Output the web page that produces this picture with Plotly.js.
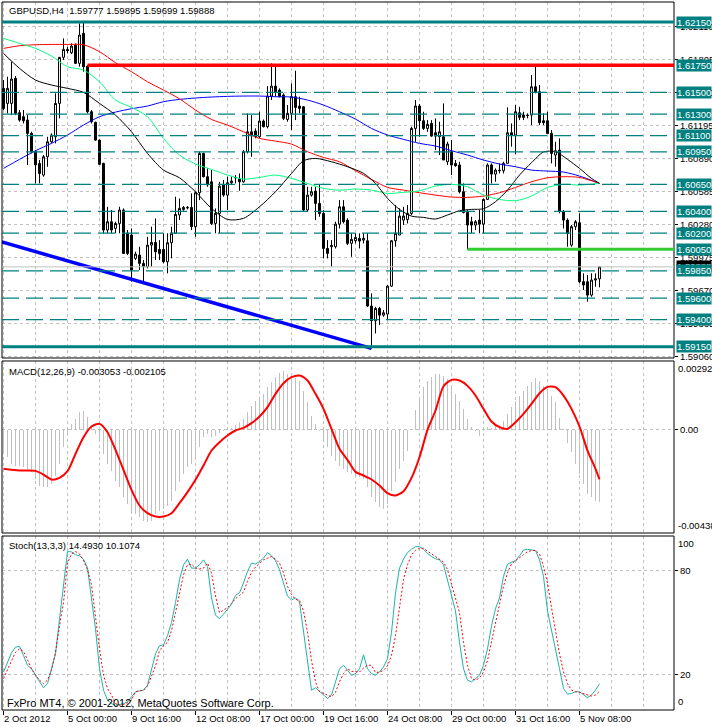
<!DOCTYPE html>
<html><head><meta charset="utf-8">
<script src="https://cdn.plot.ly/plotly-3.0.1.min.js"></script>
<style>html,body{margin:0;padding:0;background:#fff}#chart{width:712px;height:727px}</style>
</head><body><div id="chart"></div>
<script>
// ---------- DATA ----------
const symbolTitle = 'GBPUSD,H4  1.59777 1.59895 1.59699 1.59888';
const macdTitle = 'MACD(12,26,9) -0.003053 -0.002105';
const stochTitle = 'Stoch(13,3,3) 14.4930 10.1074';
const copyright = 'FxPro MT4, \u00A9 2001-2012, MetaQuotes Software Corp.';

const tickBars = [0,16,32,48,64,80,96,112,128,144];
const tickLabels = ['2 Oct 2012','5 Oct 00:00','9 Oct 16:00','12 Oct 08:00','17 Oct 00:00','19 Oct 16:00','24 Oct 08:00','29 Oct 00:00','31 Oct 16:00','5 Nov 08:00'];

const openP = [1.61537,1.61398,1.61398,1.61629,1.61312,1.61275,1.61244,1.61121,1.60952,1.60844,
1.60736,1.60905,1.61044,1.61090,1.61398,1.61823,1.61897,1.61866,1.61937,1.61768,
1.62045,1.61743,1.61321,1.61223,1.61059,1.60844,1.60228,1.60305,1.60243,1.60289,
1.60413,1.60198,1.60182,1.59966,1.59997,1.59920,1.59889,1.60089,1.60114,1.60049,
1.60049,1.59935,1.60111,1.60198,1.60367,1.60419,1.60437,1.60437,1.60259,1.60573,
1.60936,1.60721,1.60674,1.60289,1.60382,1.60644,1.60551,1.60665,1.60714,1.60699,
1.60674,1.60952,1.61136,1.61143,1.61090,1.61235,1.61183,1.61466,1.61558,1.61521,
1.61475,1.61250,1.61306,1.61460,1.61374,1.61367,1.60413,1.60551,1.60588,1.60474,
1.60382,1.60058,1.60074,1.60074,1.60283,1.60443,1.60320,1.60105,1.60129,1.60151,
1.60135,1.60129,1.59526,1.59390,1.59504,1.59442,1.59452,1.59710,1.60129,1.60182,
1.60320,1.60326,1.60382,1.61167,1.61374,1.61238,1.61167,1.61213,1.61127,1.61090,
1.61090,1.60859,1.60952,1.60844,1.60829,1.60582,1.60391,1.60305,1.60274,1.60320,
1.60283,1.60511,1.60829,1.60745,1.60776,1.60776,1.60844,1.61127,1.61106,1.61312,
1.61290,1.61290,1.61290,1.61552,1.61506,1.61238,1.61238,1.61121,1.60921,1.60967,
1.60397,1.60320,1.60089,1.60259,1.60296,1.59751,1.59751,1.59627,1.59766,1.59777];
const highP = [1.61614,1.61645,1.61783,1.61651,1.61337,1.61337,1.61290,1.61136,1.60967,1.60875,
1.60921,1.61090,1.61121,1.61491,1.61829,1.61999,1.61922,1.61953,1.61953,1.62137,
1.62159,1.61752,1.61337,1.61229,1.61066,1.60850,1.60443,1.60413,1.60305,1.60443,
1.60428,1.60228,1.60243,1.60028,1.60074,1.59951,1.60166,1.60259,1.60336,1.60135,
1.60198,1.60198,1.60259,1.60536,1.60520,1.60449,1.60449,1.60567,1.60582,1.60952,
1.60942,1.60798,1.60782,1.60428,1.60674,1.60690,1.60721,1.60721,1.60736,1.60751,
1.60967,1.61306,1.61290,1.61167,1.61321,1.61250,1.61558,1.61768,1.61737,1.61537,
1.61491,1.61383,1.61583,1.61700,1.61460,1.61374,1.60628,1.60628,1.60628,1.60644,
1.60413,1.60135,1.60135,1.60305,1.60505,1.60505,1.60336,1.60198,1.60198,1.60198,
1.60198,1.60198,1.59643,1.59519,1.59519,1.59489,1.59719,1.60135,1.60459,1.60428,
1.60443,1.60459,1.61183,1.61429,1.61392,1.61321,1.61244,1.61244,1.61260,1.61229,
1.61398,1.61044,1.61059,1.60875,1.60859,1.60659,1.60413,1.60351,1.60320,1.60413,
1.60520,1.60844,1.60844,1.60798,1.60844,1.60859,1.61361,1.61213,1.61383,1.61367,
1.61321,1.61306,1.61660,1.61743,1.61568,1.61306,1.61321,1.61152,1.61044,1.61075,
1.60413,1.60336,1.60274,1.60320,1.60382,1.59828,1.59812,1.59828,1.59828,1.59895];
const lowP = [1.61337,1.61306,1.61290,1.61290,1.61229,1.61213,1.60829,1.60936,1.60659,1.60659,
1.60721,1.60813,1.61029,1.61029,1.61260,1.61799,1.61860,1.61854,1.61762,1.61737,
1.61691,1.61306,1.61213,1.61053,1.60829,1.60198,1.60198,1.60198,1.60198,1.60198,
1.60006,1.59997,1.59751,1.59951,1.59859,1.59751,1.59874,1.59889,1.59951,1.59951,
1.59920,1.59828,1.59966,1.60198,1.60320,1.60406,1.60419,1.60228,1.60166,1.60505,
1.60714,1.60628,1.60274,1.60198,1.60198,1.60536,1.60413,1.60644,1.60659,1.60591,
1.60665,1.60936,1.60905,1.61075,1.61075,1.61176,1.61167,1.61429,1.61460,1.61454,
1.61244,1.61229,1.61152,1.61244,1.61306,1.60397,1.60397,1.60536,1.60320,1.60351,
1.59966,1.59966,1.59889,1.60058,1.60243,1.60289,1.60089,1.59981,1.60105,1.60058,
1.60105,1.59519,1.59135,1.59273,1.59350,1.59427,1.59396,1.59704,1.60074,1.60182,
1.60274,1.60289,1.60367,1.61044,1.61090,1.61152,1.61136,1.61090,1.60967,1.60921,
1.60875,1.60829,1.60736,1.60813,1.60567,1.60382,1.60049,1.60198,1.60228,1.60198,
1.60198,1.60505,1.60659,1.60674,1.60751,1.60751,1.60844,1.60998,1.60930,1.61244,
1.61244,1.61260,1.61198,1.61491,1.61198,1.61198,1.61121,1.60844,1.60813,1.60382,
1.60243,1.60074,1.60074,1.60228,1.59735,1.59674,1.59566,1.59612,1.59704,1.59699];
const closeP = [1.61352,1.61537,1.61623,1.61306,1.61244,1.61238,1.61121,1.60952,1.60829,1.60751,
1.60905,1.61044,1.61106,1.61398,1.61823,1.61897,1.61885,1.61928,1.61768,1.62030,
1.61737,1.61321,1.61229,1.61059,1.60835,1.60228,1.60305,1.60228,1.60289,1.60413,
1.60012,1.60012,1.59859,1.60006,1.59920,1.59889,1.60089,1.60114,1.60028,1.60012,
1.59935,1.60111,1.60198,1.60373,1.60428,1.60437,1.60434,1.60259,1.60573,1.60936,
1.60721,1.60644,1.60289,1.60382,1.60634,1.60551,1.60665,1.60681,1.60711,1.60674,
1.60952,1.61136,1.61106,1.61090,1.61235,1.61183,1.61466,1.61558,1.61506,1.61460,
1.61260,1.61306,1.61460,1.61361,1.61352,1.60413,1.60551,1.60582,1.60474,1.60382,
1.60058,1.60012,1.60086,1.60283,1.60443,1.60305,1.60105,1.60142,1.60160,1.60126,
1.60151,1.59526,1.59390,1.59504,1.59442,1.59464,1.59710,1.60129,1.60198,1.60357,
1.60357,1.60382,1.61167,1.61374,1.61238,1.61167,1.61204,1.61096,1.61096,1.61136,
1.60875,1.61023,1.60829,1.60822,1.60582,1.60391,1.60274,1.60274,1.60305,1.60283,
1.60511,1.60829,1.60745,1.60782,1.60780,1.60844,1.61127,1.61106,1.61321,1.61269,
1.61269,1.61287,1.61552,1.61506,1.61220,1.61220,1.61121,1.60936,1.60961,1.60397,
1.60320,1.60198,1.60259,1.60305,1.59751,1.59720,1.59627,1.59766,1.59777,1.59888];

// moving averages read at sample bars
const maFastBars = [0,4,8,12,16,20,24,28,32,36,40,44,48,52,56,60,64,68,72,75,78,82,86,90,93,96,99,102,105,108,111,114,117,120,123,126,129,132,135,138,141,144,147,149];
const maFast = [1.61860,1.61722,1.61614,1.61568,1.61537,1.61500,1.61398,1.61290,1.61136,1.60936,1.60782,1.60711,1.60582,1.60428,1.60326,1.60336,1.60443,1.60582,1.60751,1.60868,1.60890,1.60859,1.60813,1.60752,1.60659,1.60521,1.60419,1.60357,1.60345,1.60330,1.60367,1.60407,1.60419,1.60425,1.60490,1.60597,1.60736,1.60850,1.60949,1.60952,1.60881,1.60798,1.60705,1.60659];
const maBars = [0,4,8,12,16,20,24,28,32,36,40,44,48,52,56,60,64,68,72,76,80,84,88,92,96,100,104,108,112,116,120,124,128,132,136,140,144,149];
const maGreen = [1.61999,1.61953,1.61906,1.61836,1.61737,1.61706,1.61598,1.61429,1.61361,1.61275,1.61075,1.60921,1.60838,1.60788,1.60736,1.60699,1.60714,1.60736,1.60705,1.60659,1.60613,1.60597,1.60607,1.60597,1.60567,1.60576,1.60591,1.60634,1.60650,1.60628,1.60551,1.60511,1.60499,1.60542,1.60622,1.60650,1.60644,1.60659];
const maRed = [1.61906,1.61931,1.61940,1.61943,1.61943,1.61940,1.61876,1.61774,1.61691,1.61598,1.61521,1.61441,1.61337,1.61250,1.61198,1.61136,1.61075,1.61050,1.61022,1.60952,1.60899,1.60859,1.60776,1.60696,1.60622,1.60597,1.60573,1.60551,1.60533,1.60530,1.60542,1.60573,1.60622,1.60674,1.60711,1.60721,1.60714,1.60659];
const maBlue = [1.60798,1.60881,1.60961,1.61029,1.61106,1.61198,1.61275,1.61318,1.61349,1.61374,1.61414,1.61435,1.61448,1.61457,1.61463,1.61466,1.61466,1.61460,1.61457,1.61429,1.61383,1.61321,1.61253,1.61167,1.61106,1.61066,1.61029,1.61004,1.60961,1.60921,1.60875,1.60838,1.60813,1.60782,1.60773,1.60764,1.60727,1.60659];

// drawn objects
const trendBars = [-0.4, 92];
const trendPrices = [1.60118, 1.59135];
const tealSolidLevels = [1.62150, 1.59150];
const redLevel = 1.61750, redStartBar = 21;
const greenLevel = 1.60050, greenStartBar = 116;
const dashedLevels = [1.61500,1.61300,1.61100,1.60950,1.60650,1.60400,1.60200,1.59850,1.59600,1.59400];
const labelLevels = [1.62150,1.61750,1.61500,1.61300,1.61100,1.60950,1.60650,1.60400,1.60200,1.60050,1.59850,1.59600,1.59400,1.59150];
const bidPrice = 1.59888;
const priceTicks = [1.59060,1.59365,1.59670,1.59975,1.60280,1.60585,1.60890,1.61195,1.61500,1.61805,1.62110];

// MACD
const macdMain = [-0.001019,-0.001161,-0.001444,-0.001515,-0.001515,-0.001585,-0.001656,-0.001798,-0.002081,-0.002364,
-0.002435,-0.002435,-0.002293,-0.001939,-0.001444,-0.000736,-0.000170,0.000255,0.000467,0.000750,
0.000793,0.000538,0.000184,-0.000170,-0.000524,-0.001019,-0.001444,-0.001727,-0.002152,-0.002435,
-0.002859,-0.003142,-0.003426,-0.003567,-0.003709,-0.003851,-0.003921,-0.003851,-0.003567,-0.003426,
-0.003355,-0.003213,-0.003001,-0.002576,-0.002222,-0.001868,-0.001585,-0.001444,-0.001161,-0.000736,
-0.000311,-0.000170,-0.000311,-0.000241,-0.000142,-0.000057,0.000010,0.000085,0.000226,0.000326,
0.000467,0.000750,0.001033,0.001246,0.001387,0.001529,0.001812,0.002024,0.002265,0.002406,
0.002491,0.002378,0.002265,0.002208,0.002095,0.001670,0.001175,0.000609,0.000255,-0.000028,
-0.000382,-0.000736,-0.001090,-0.001302,-0.001515,-0.001656,-0.001798,-0.001868,-0.001939,-0.001982,
-0.002081,-0.002435,-0.002859,-0.003072,-0.003284,-0.003355,-0.003142,-0.002576,-0.002222,-0.001656,
-0.001302,-0.000878,0.000042,0.000849,0.001387,0.001812,0.002095,0.002236,0.002378,0.002378,
0.002307,0.002166,0.001812,0.001529,0.001246,0.000892,0.000467,0.000113,-0.000057,-0.000241,
-0.000057,0.000142,0.000085,0.000170,0.000226,0.000396,0.000679,0.000963,0.001246,0.001458,
0.001670,0.001883,0.002024,0.002208,0.002095,0.001883,0.001741,0.001458,0.001175,0.000510,
0.000042,-0.000566,-0.000948,-0.001444,-0.001868,-0.002293,-0.002718,-0.002859,-0.003001,-0.003053];
const macdSignalBars = [0,4,8,10,12,14,16,18,20,22,24,26,28,30,32,34,36,38,40,42,44,46,48,50,52,54,56,58,60,62,64,66,68,70,72,74,76,78,80,82,84,86,88,90,92,94,96,98,100,102,104,106,108,110,112,114,116,118,120,122,124,126,128,130,132,134,136,138,140,142,144,146,148,149];
const macdSignal = [-0.001656,-0.001727,-0.001741,-0.001897,-0.002109,-0.002038,-0.001755,-0.001019,-0.000311,0.000142,
0.000255,-0.000099,-0.000849,-0.001699,-0.002548,-0.003213,-0.003539,-0.003680,-0.003680,-0.003539,
-0.003114,-0.002647,-0.002123,-0.001515,-0.000878,-0.000524,-0.000241,-0.000028,0.000085,0.000283,
0.000566,0.000963,0.001529,0.001982,0.002236,0.002307,0.002095,0.001529,0.000892,0.000042,
-0.000807,-0.001274,-0.001784,-0.001939,-0.002109,-0.002364,-0.002689,-0.002789,-0.002604,-0.002038,
-0.001161,0.000000,0.000821,0.001854,0.002123,0.002095,0.001868,0.001458,0.000892,0.000354,
0.000113,0.000042,0.000326,0.000679,0.001104,0.001557,0.001826,0.001812,0.001458,0.000892,
0.000142,-0.000878,-0.001656,-0.002105];
const macdMax = 0.002924, macdMin = -0.00438;

// Stochastic
const stochMain = [21.3,27.0,32.4,35.7,36.2,30.9,25.2,23.2,19.4,15.6,
12.2,14.6,23.2,31.8,51.9,72.9,91.1,90.9,89.2,88.6,
86.7,81.5,65.3,46.2,23.2,10.8,5.0,3.0,2.0,2.5,
3.0,4.0,7.0,9.9,10.4,10.8,13.7,22.3,31.8,36.6,
37.0,42.4,50.0,61.5,74.8,83.4,86.7,81.5,81.5,83.4,
86.3,82.5,64.3,54.2,52.3,54.8,58.0,60.5,65.7,67.2,
72.9,79.6,84.4,83.8,85.3,87.3,90.5,88.6,85.9,80.6,
72.9,65.3,63.0,64.3,61.8,44.3,25.2,10.8,12.2,9.9,
8.0,6.0,8.0,15.6,23.2,25.2,22.3,19.4,20.4,23.2,
31.3,23.2,20.4,19.4,21.3,24.2,29.0,44.3,67.2,81.5,
86.7,90.5,92.4,93.9,93.9,92.4,90.1,88.2,86.9,86.3,
83.4,74.8,65.3,56.7,38.5,23.2,16.6,15.6,17.5,19.4,
25.2,34.7,48.1,58.0,64.3,76.7,83.8,85.0,85.9,88.6,
92.0,92.4,92.0,91.7,86.3,76.7,56.7,46.2,34.7,23.2,
11.8,8.5,8.9,9.9,9.9,8.0,6.4,8.0,10.8,14.493];
const stochSignal = [17.5,22.3,28.0,32.8,34.7,33.2,28.4,23.2,19.4,16.6,
14.6,16.6,22.3,32.8,48.1,61.5,84.4,89.7,91.1,89.7,
85.9,80.6,72.0,52.9,34.7,19.4,11.8,8.0,3.0,2.0,
2.5,3.5,5.0,9.9,10.3,10.8,13.1,18.5,24.8,33.8,
36.6,38.5,45.2,55.7,67.2,77.7,83.4,83.8,81.5,81.0,
81.5,84.4,78.7,65.3,55.7,57.1,58.6,61.1,63.8,65.7,
67.6,73.9,79.0,82.1,84.4,86.3,87.3,88.2,86.7,84.4,
78.7,71.0,66.2,63.4,62.8,56.7,44.3,28.0,15.6,9.9,
8.9,8.0,7.0,9.5,15.6,20.4,23.2,21.7,21.3,21.3,
23.6,25.2,25.2,21.0,21.3,22.3,24.8,30.9,42.4,59.5,
74.8,83.4,89.2,91.7,93.0,93.0,91.1,89.7,88.2,86.7,
85.0,80.6,72.0,64.3,55.7,38.5,25.2,17.5,16.6,17.9,
21.3,28.0,39.5,49.0,60.5,71.0,78.7,84.0,85.9,87.3,
89.2,90.9,91.7,91.7,89.7,82.5,72.9,58.6,45.2,31.8,
21.3,14.6,10.8,9.9,9.5,8.9,8.0,7.4,8.0,10.1074];
const stochLevels = [20, 80];

// ---------- CHART ----------
const FONT = 'Liberation Sans, Arial, sans-serif';
const FS = 9.5;
const bars = openP.map((_, i) => i);
const X_RANGE = [-0.375, 167.625];
const GRID = '#C0C0C0';
const TEAL = '#008080';

const traces = [];
traces.push({type:'candlestick', x:bars, open:openP, high:highP, low:lowP, close:closeP,
  xaxis:'x', yaxis:'y', hoverinfo:'skip', whiskerwidth:0,
  increasing:{line:{color:'#000', width:1}, fillcolor:'#FFFFFF'},
  decreasing:{line:{color:'#000', width:1}, fillcolor:'#000000'}});
const maLine = (xs, ys, color) => ({type:'scatter', mode:'lines', x:xs, y:ys, xaxis:'x', yaxis:'y',
  hoverinfo:'skip', line:{color:color, width:1, shape:'spline', smoothing:0.8}});
traces.push(maLine(maBars, maBlue, '#0000FF'));
traces.push(maLine(maBars, maRed, '#FF0000'));
traces.push(maLine(maBars, maGreen, '#00FF7F'));
traces.push(maLine(maFastBars, maFast, '#000000'));
traces.push({type:'scatter', mode:'lines', x:trendBars, y:trendPrices, xaxis:'x', yaxis:'y',
  hoverinfo:'skip', line:{color:'#0000FF', width:3.5}});

traces.push({type:'bar', x:bars, y:macdMain, width:0.25, xaxis:'x2', yaxis:'y2',
  marker:{color:'#C0C0C0', line:{width:0}}, hoverinfo:'skip'});
traces.push({type:'scatter', mode:'lines', x:macdSignalBars, y:macdSignal, xaxis:'x2', yaxis:'y2',
  hoverinfo:'skip', line:{color:'#FF0000', width:2, shape:'spline', smoothing:0.7}});

traces.push({type:'scatter', mode:'lines', x:bars, y:stochMain, xaxis:'x3', yaxis:'y3',
  hoverinfo:'skip', line:{color:'#20B2AA', width:1}});
traces.push({type:'scatter', mode:'lines', x:bars, y:stochSignal, xaxis:'x3', yaxis:'y3',
  hoverinfo:'skip', line:{color:'#FF0000', width:1, dash:'2px,2px'}});

const shapes = [];
const DOM_MAIN = [0.49718, 1], DOM_MACD = [0.25, 0.49294], DOM_STO = [0, 0.24576];
[DOM_MAIN, DOM_MACD, DOM_STO].forEach(d => shapes.push({type:'rect', xref:'paper', yref:'paper',
  x0:0, x1:1, y0:d[0], y1:d[1], line:{color:'#000', width:1}, fillcolor:'rgba(0,0,0,0)'}));
shapes.push({type:'line', xref:'x', yref:'y', x0:X_RANGE[0], x1:X_RANGE[1], y0:bidPrice, y1:bidPrice,
  line:{color:'#C0C0C0', width:1}});
dashedLevels.forEach(v => shapes.push({type:'line', xref:'x', yref:'y', x0:X_RANGE[0], x1:X_RANGE[1],
  y0:v, y1:v, line:{color:TEAL, width:1.3, dash:'17px,7px'}}));
tealSolidLevels.forEach(v => shapes.push({type:'line', xref:'x', yref:'y', x0:X_RANGE[0], x1:X_RANGE[1],
  y0:v, y1:v, line:{color:TEAL, width:3}}));
shapes.push({type:'line', xref:'x', yref:'y', x0:redStartBar, x1:X_RANGE[1], y0:redLevel, y1:redLevel,
  line:{color:'#FF0000', width:3.5}});
shapes.push({type:'line', xref:'x', yref:'y', x0:greenStartBar, x1:X_RANGE[1], y0:greenLevel, y1:greenLevel,
  line:{color:'#32CD32', width:3}});

const tf = {family:FONT, size:FS, color:'#000'};
const annotations = [];
annotations.push({xref:'paper', yref:'y', x:1, y:bidPrice, xanchor:'left', yanchor:'middle', xshift:2,
  text:bidPrice.toFixed(5), showarrow:false, bgcolor:'#000', borderpad:0, font:{family:FONT, size:FS, color:'#fff'}});
labelLevels.forEach(v => annotations.push({xref:'paper', yref:'y', x:1, y:v, xanchor:'left', yanchor:'middle',
  xshift:2, text:v.toFixed(5), showarrow:false, bgcolor:TEAL, borderpad:0,
  font:{family:FONT, size:FS, color:'#fff'}}));
annotations.push({xref:'paper', yref:'y2', x:1, y:macdMax, xanchor:'left', yanchor:'top', xshift:2,
  text:macdMax.toFixed(6), showarrow:false, font:tf});
annotations.push({xref:'paper', yref:'y2', x:1, y:macdMin, xanchor:'left', yanchor:'bottom', xshift:2,
  text:macdMin.toFixed(5), showarrow:false, font:tf});
annotations.push({xref:'paper', yref:'y3', x:1, y:100, xanchor:'left', yanchor:'top', xshift:2,
  text:'100', showarrow:false, font:tf});
annotations.push({xref:'paper', yref:'y3', x:1, y:0, xanchor:'left', yanchor:'bottom', xshift:2,
  text:'0', showarrow:false, font:tf});
annotations.push({xref:'paper', yref:'paper', x:0.0074, y:0.9873, xanchor:'left', yanchor:'middle',
  text:symbolTitle, showarrow:false, font:tf});
annotations.push({xref:'paper', yref:'paper', x:0.0074, y:0.4788, xanchor:'left', yanchor:'middle',
  text:macdTitle, showarrow:false, font:tf});
annotations.push({xref:'paper', yref:'paper', x:0.0074, y:0.2321, xanchor:'left', yanchor:'middle',
  text:stochTitle, showarrow:false, font:tf});
annotations.push({xref:'paper', yref:'paper', x:0.0045, y:0.0103, xanchor:'left', yanchor:'middle',
  text:copyright, showarrow:false, font:{family:FONT, size:11, color:'#000'}});

const xBase = {range:X_RANGE, showgrid:true, gridcolor:GRID, griddash:'dot', gridwidth:1,
  tickmode:'array', tickvals:tickBars, ticktext:tickLabels, zeroline:false, showline:false, fixedrange:true,
  minor:{tickmode:'linear', tick0:0, dtick:8, showgrid:true, gridcolor:GRID, griddash:'dot', gridwidth:1, ticks:''}};
const yBase = {side:'right', showgrid:true, gridcolor:GRID, griddash:'dot', gridwidth:1, zeroline:false,
  showline:false, fixedrange:true, ticks:'outside', ticklen:3, tickcolor:'#000', tickfont:tf};

const layout = {
  width:712, height:727, margin:{l:2, r:38, t:2, b:17},
  paper_bgcolor:'#fff', plot_bgcolor:'#fff', showlegend:false, hovermode:false,
  xaxis:Object.assign({}, xBase, {anchor:'y', showticklabels:false, ticks:'', rangeslider:{visible:false}}),
  xaxis2:Object.assign({}, xBase, {anchor:'y2', showticklabels:false, ticks:''}),
  xaxis3:Object.assign({}, xBase, {anchor:'y3', ticks:'outside', ticklen:4, tickcolor:'#000',
    ticklabelposition:'outside right', tickfont:tf}),
  yaxis:Object.assign({}, yBase, {domain:DOM_MAIN, range:[1.59046, 1.62335], tickmode:'array',
    tickvals:priceTicks, ticktext:priceTicks.map(v => v.toFixed(5))}),
  yaxis2:Object.assign({}, yBase, {domain:DOM_MACD, range:[macdMin, macdMax], tickmode:'array',
    tickvals:[0], ticktext:['0.00']}),
  yaxis3:Object.assign({}, yBase, {domain:DOM_STO, range:[-0.7, 100.1], tickmode:'array',
    tickvals:stochLevels, ticktext:stochLevels.map(String)}),
  bargap:0, shapes:shapes, annotations:annotations
};
Plotly.newPlot('chart', traces, layout, {staticPlot:true, displayModeBar:false});
</script>
</body></html>
